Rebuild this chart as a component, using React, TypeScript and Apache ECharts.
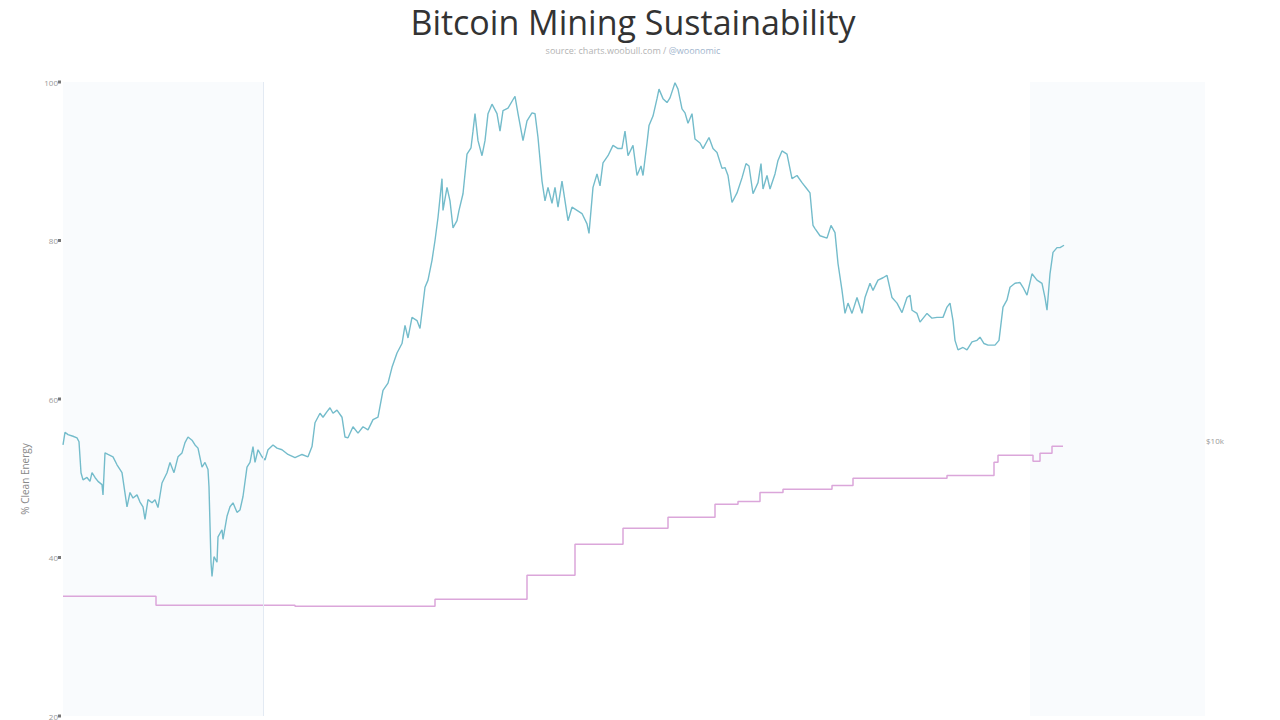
import React, { useEffect, useRef } from "react";
import * as echarts from "echarts";

// Teal series: % clean energy (left axis), x = day index
const CLEAN_DAYS = [
  0, 2, 5, 10, 14, 16, 18, 20, 24, 27,
  29, 32, 35, 39, 40, 42, 45, 50, 54, 59,
  64, 67, 70, 74, 77, 80, 82, 85, 89, 92,
  95, 99, 104, 107, 111, 115, 119, 122, 125, 129,
  132, 135, 139, 142, 145, 146, 148, 149, 151, 154,
  155, 159, 160, 164, 167, 170, 174, 177, 180, 184,
  187, 190, 192, 195, 199, 202, 205, 210, 214, 219,
  225, 232, 239, 245, 249, 252, 257, 260, 264, 267,
  270, 274, 279, 282, 285, 290, 295, 300, 305, 310,
  315, 320, 325, 329, 334, 339, 342, 345, 349, 354,
  357, 362, 365, 369, 372, 375, 379, 380, 384, 387,
  390, 394, 396, 400, 404, 408, 410, 412, 415, 419,
  422, 425, 429, 434, 437, 440, 445, 452, 455, 460,
  464, 469, 472, 475, 479, 482, 485, 489, 492, 495,
  499, 502, 505, 509, 514, 519, 524, 526, 530, 534,
  537, 540, 545, 550, 555, 559, 562, 565, 570, 574,
  578, 580, 584, 586, 590, 594, 596, 600, 604, 607,
  612, 615, 619, 622, 625, 629, 632, 637, 640, 646,
  650, 654, 659, 662, 665, 669, 674, 679, 683, 686,
  690, 695, 698, 700, 704, 707, 712, 715, 719, 724,
  729, 734, 739, 744, 747, 750, 752, 757, 764, 768,
  772, 775, 779, 782, 785, 789, 794, 799, 802, 807,
  810, 815, 820, 824, 829, 834, 839, 844, 847, 849,
  854, 857, 864, 869, 874, 880, 884, 887, 890, 892,
  895, 900, 904, 909, 914, 917, 921, 925, 932, 936,
  940, 944, 947, 952, 957, 960, 964, 969, 974, 979,
  982, 984, 987, 990, 994, 997, 1001,
];

const CLEAN_VALUES = [
  54.2, 55.8, 55.5, 55.3, 55.1, 54.6, 50.7, 49.8, 50.1, 49.6,
  50.7, 50.1, 49.6, 49.2, 47.9, 53.2, 53.0, 52.7, 51.7, 50.7,
  46.4, 48.2, 47.5, 47.9, 47.0, 46.4, 44.8, 47.3, 46.9, 47.3,
  46.3, 49.4, 50.7, 52.0, 50.7, 52.7, 53.2, 54.5, 55.2, 54.8,
  54.2, 53.8, 51.4, 52.0, 51.1, 48.9, 39.4, 37.6, 40.1, 39.4,
  42.6, 43.5, 42.3, 45.2, 46.4, 46.9, 45.7, 46.0, 47.7, 51.4,
  52.0, 54.0, 52.0, 53.6, 52.7, 52.3, 53.6, 54.2, 53.8, 53.6,
  53.0, 52.6, 53.0, 52.7, 54.0, 57.0, 58.2, 57.7, 58.4, 58.9,
  58.2, 58.6, 57.7, 55.2, 55.1, 56.5, 55.7, 56.5, 56.1, 57.4,
  57.7, 61.1, 62.0, 64.0, 65.8, 67.0, 69.3, 67.7, 70.3, 69.9,
  68.9, 74.1, 75.0, 77.5, 80.0, 82.9, 87.8, 83.8, 86.7, 85.0,
  81.6, 82.5, 83.8, 85.9, 90.9, 91.7, 93.8, 96.0, 92.6, 90.7,
  92.6, 96.0, 97.2, 96.0, 93.8, 96.4, 96.7, 98.2, 96.0, 92.6,
  95.1, 96.1, 96.0, 93.0, 87.5, 85.0, 86.7, 84.7, 86.7, 84.2,
  87.5, 85.0, 82.5, 84.2, 83.8, 83.4, 82.1, 80.9, 86.7, 88.4,
  86.9, 89.8, 90.7, 92.0, 91.6, 91.6, 93.8, 90.7, 92.0, 88.2,
  89.4, 88.2, 92.3, 94.5, 95.7, 97.9, 99.1, 97.9, 97.4, 98.0,
  99.9, 99.1, 96.6, 96.1, 94.8, 96.0, 92.8, 92.3, 91.6, 93.0,
  91.6, 91.1, 89.1, 89.2, 88.2, 84.8, 86.0, 87.9, 89.7, 89.4,
  85.9, 87.3, 89.7, 86.5, 88.2, 86.5, 88.4, 90.1, 91.3, 90.9,
  87.8, 88.2, 87.3, 86.5, 86.0, 81.9, 81.5, 80.6, 80.3, 81.9,
  81.0, 77.1, 73.7, 70.8, 72.1, 70.8, 72.8, 70.8, 72.8, 74.6,
  73.7, 75.0, 75.3, 75.6, 72.8, 72.1, 70.9, 72.8, 73.1, 71.2,
  70.8, 69.7, 70.8, 70.2, 70.3, 70.3, 71.6, 72.1, 69.9, 67.4,
  66.2, 66.5, 66.2, 67.2, 67.4, 67.8, 67.0, 66.8, 66.8, 67.4,
  71.6, 72.5, 74.1, 74.6, 74.7, 74.1, 73.1, 75.8, 75.0, 74.6,
  72.8, 71.2, 75.8, 78.5, 79.1, 79.1, 79.4,
];

// Pink step series (right log axis, USD)
const PINK_DAYS = [0, 93, 232, 372, 464, 512, 560, 605, 652, 675, 697, 720, 769, 790, 884, 931, 935, 970, 977, 989, 1000];
const PINK_VALUES = [2720, 2525, 2500, 2655, 3240, 4200, 4800, 5260, 5870, 6010, 6480, 6650, 6870, 7290, 7470, 8330, 8830, 8400, 8980, 9520, 9520];

// Shaded periods and marker
const BANDS: [number, number][] = [[0, 200], [967, 1142]];
const MARKER_DAY = 200;

const LEFT_TICKS = [20, 40, 60, 80, 100];

const TITLE = "Bitcoin Mining Sustainability";
const SUBTITLE = "source: charts.woobull.com / ";
const HANDLE = "@woonomic";

export default function App() {
  const ref = useRef<HTMLDivElement>(null);

  useEffect(() => {
    if (!ref.current) return;
    const chart = echarts.init(ref.current, undefined, { renderer: "svg" });
    const clean = CLEAN_DAYS.map((d, i) => [d, CLEAN_VALUES[i]]);
    const pink = PINK_DAYS.map((d, i) => [d, PINK_VALUES[i]]);

    chart.setOption({
      animation: false,
      backgroundColor: "#ffffff",
      grid: { left: 63, right: 75, top: 82, bottom: 3, containLabel: false },
      xAxis: {
        type: "value",
        min: 0,
        max: 1142,
        show: false,
      },
      yAxis: [
        {
          type: "value",
          min: 20,
          max: 100,
          interval: 20,
          position: "left",
          axisLine: { show: false },
          axisTick: { show: false },
          splitLine: { show: false },
          axisLabel: {
            margin: 2,
            fontFamily: "Open Sans",
            fontSize: 8,
            color: "#999999",
            formatter: (v: number) => (LEFT_TICKS.includes(v) ? `${v}{sq|}` : ""),
            rich: { sq: { width: 3, height: 3, backgroundColor: "#777777", padding: 0 } },
          },
        },
        {
          type: "log",
          logBase: 10,
          min: 1000,
          max: 200000,
          position: "right",
          axisLine: { show: false },
          axisTick: { show: false },
          splitLine: { show: false },
          axisLabel: {
            margin: 1,
            fontFamily: "Open Sans",
            fontSize: 8,
            color: "#999999",
            formatter: (v: number) => (Math.abs(v - 10000) < 1 ? "$10k" : ""),
          },
        },
      ],
      graphic: [
        {
          type: "text",
          x: 633,
          y: 22,
          style: {
            text: TITLE,
            fontFamily: "Open Sans",
            fontSize: 34,
            lineHeight: 36,
            fill: "#333333",
            align: "center",
            verticalAlign: "middle",
          },
        },
        {
          type: "text",
          x: 633,
          y: 50,
          style: {
            text: SUBTITLE + "{w|" + HANDLE + "}",
            fontFamily: "Open Sans",
            fontSize: 9,
            fill: "#b3b3b3",
            align: "center",
            verticalAlign: "middle",
            rich: { w: { fontFamily: "Open Sans", fontSize: 9, fill: "#9fb5cd" } },
          },
        },
        {
          type: "text",
          x: 25,
          y: 479,
          rotation: Math.PI / 2,
          style: {
            text: "% Clean Energy",
            fontFamily: "Open Sans",
            fontSize: 10,
            fill: "#888888",
            align: "center",
            verticalAlign: "middle",
          },
        },
      ],
      series: [
        {
          name: "bands",
          type: "line",
          data: [],
          markArea: {
            silent: true,
            itemStyle: { color: "rgba(230,238,248,0.25)" },
            data: BANDS.map(([a, b]) => [{ xAxis: a }, { xAxis: b }]),
          },
          markLine: {
            silent: true,
            symbol: "none",
            label: { show: false },
            lineStyle: { color: "#e3eaf3", width: 1, type: "solid" },
            data: [{ xAxis: MARKER_DAY }],
          },
        },
        {
          name: "% Clean Energy",
          type: "line",
          yAxisIndex: 0,
          data: clean,
          showSymbol: false,
          lineStyle: { color: "#74bccb", width: 1.4 },
          z: 3,
        },
        {
          name: "Price",
          type: "line",
          yAxisIndex: 1,
          step: "end",
          data: pink,
          showSymbol: false,
          lineStyle: { color: "#dba6da", width: 1.5 },
          z: 2,
        },
      ],
    });

    return () => chart.dispose();
  }, []);

  return (
    <div
      ref={ref}
      style={{ position: "absolute", left: 0, top: 0, width: 1280, height: 720 }}
    />
  );
}
